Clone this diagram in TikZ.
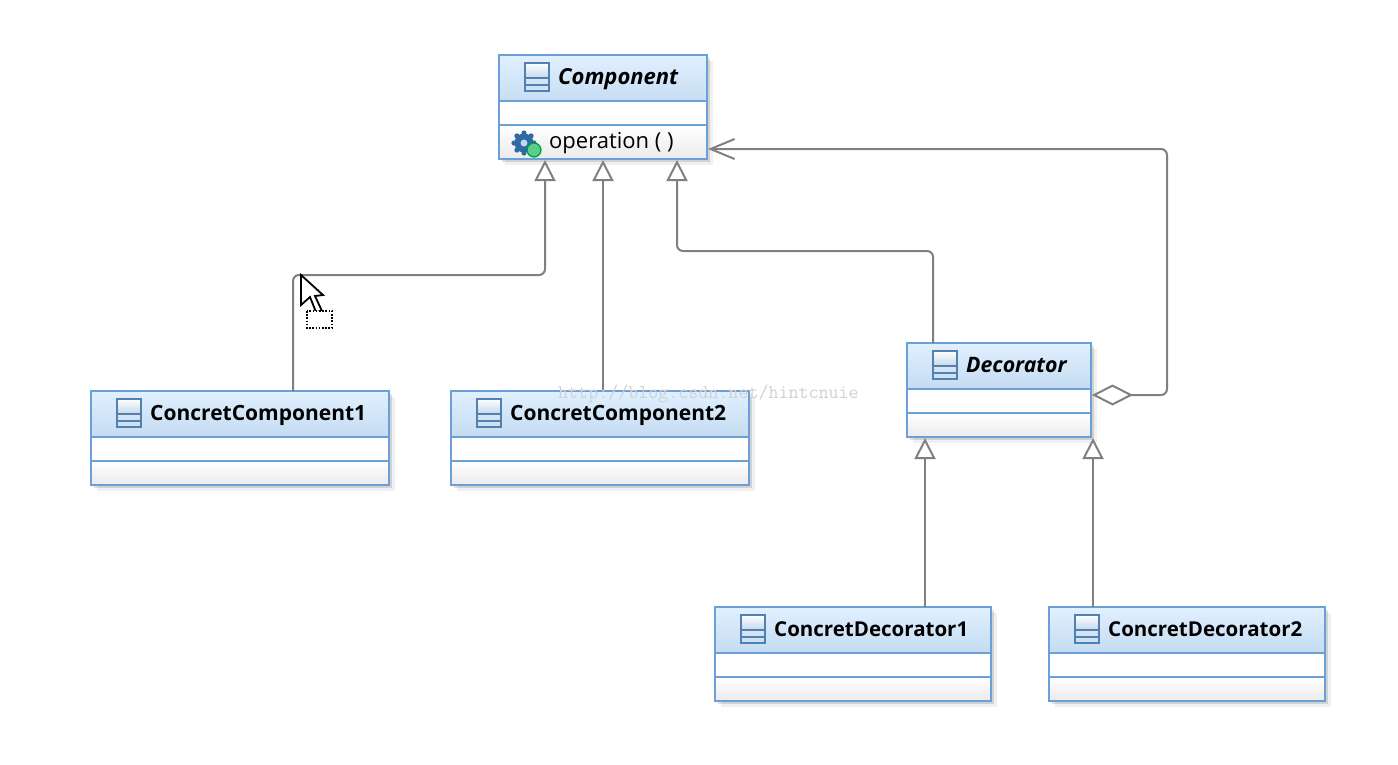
\documentclass[tikz,border=0pt]{standalone}
\usepackage{fontspec}
\setmainfont{Open Sans}
\usetikzlibrary{arrows.meta}
\usetikzlibrary{shadows}
\definecolor{classblue}{HTML}{6A9FD8}
\definecolor{headtop}{HTML}{E0F0FF}
\definecolor{headbot}{HTML}{A8C6E2}
\definecolor{linegray}{HTML}{808080}
\definecolor{gearblue}{HTML}{2F6AA5}
\tikzset{
	classbox/.style={
		drop shadow={shadow xshift=6pt,shadow yshift=-6pt,opacity=.06,fill=black},
		drop shadow={shadow xshift=3pt,shadow yshift=-3pt,opacity=.12,fill=black},
		anchor=north west,rectangle,draw=classblue,line width=2.2pt,fill=white,
		inner sep=0pt,outer sep=0pt,minimum height=#1,
		path picture={
			\shade[top color=headtop,bottom color=headbot]
				(path picture bounding box.north west) rectangle ([yshift=-46pt]path picture bounding box.north east);
			\shade[top color=white,bottom color=black!8]
				([yshift=-70pt]path picture bounding box.north west) rectangle (path picture bounding box.south east);
			\draw[classblue,line width=2.2pt] ([yshift=-46pt]path picture bounding box.north west) -- ([yshift=-46pt]path picture bounding box.north east);
			\draw[classblue,line width=2.2pt] ([yshift=-70pt]path picture bounding box.north west) -- ([yshift=-70pt]path picture bounding box.north east);
		}},
	classbox/.default=94pt,
	classname/.style={anchor=base west,inner sep=0pt,font=\fontsize{#1}{24}\selectfont\bfseries},
	classname/.default=21,
	connector/.style={linegray,line width=2pt,rounded corners=6pt},
	inherits/.style={connector,-{Triangle[open,fill=white,length=21pt,width=21pt]}},
	holds/.style={connector,{Diamond[open,fill=white,length=41pt,width=21pt]}-{Straight Barb[length=24pt,width=20pt]}},
	classicon/.pic={
		\fill[top color=white,bottom color=headbot!70] (0,0) rectangle (24,15);
		\draw[classblue!80!black,line width=1.6pt] (0,0) rectangle (24,28);
		\draw[classblue!80!black,line width=1.6pt] (0,15) -- (24,15);
		\draw[classblue!80!black,line width=1.6pt] (0,22) -- (24,22);
	}
}
\begin{document}
\begin{tikzpicture}[x=1pt,y=-1pt]
		\useasboundingbox[fill=white] (0,0) rectangle (1398,764);
		% classes
		\node[classbox=104pt,minimum width=208pt] (component) at (499,55) {};
		\foreach \name/\x/\y/\w in {decorator/907/343/184,
			concretecomponent1/91/391/298,concretecomponent2/451/391/298,
			concretedecorator1/715/607/276,concretedecorator2/1049/607/276} {
			\node[classbox,minimum width=\w pt] (\name) at (\x,\y) {};
		}
		% icons
		\pic at (525,63) {classicon};
		\pic at (933,351) {classicon};
		\pic at (117,399) {classicon};
		\pic at (477,399) {classicon};
		\pic at (741,615) {classicon};
		\pic at (1075,615) {classicon};
		% names
		\node[classname=22] (componentname) at ([xshift=59pt,yshift=-29pt]component.north west) {\itshape Component};
		\node[classname=21.3] (decoratorname) at ([xshift=59pt,yshift=-29pt]decorator.north west) {\itshape Decorator};
		\node[classname] (cc1name) at ([xshift=59pt,yshift=-29pt]concretecomponent1.north west) {ConcretComponent1};
		\node[classname] (cc2name) at ([xshift=59pt,yshift=-29pt]concretecomponent2.north west) {ConcretComponent2};
		\node[classname=20.5] (cd1name) at ([xshift=59pt,yshift=-29pt]concretedecorator1.north west) {ConcretDecorator1};
		\node[classname=20.5] (cd2name) at ([xshift=59pt,yshift=-29pt]concretedecorator2.north west) {ConcretDecorator2};
		% operation row
		\foreach \a in {0,45,...,315} {
			\fill[gearblue] (524,143) ++(\a:10) circle (2.6);
		}
		\fill[gearblue] (524,143) circle (9.5);
		\fill[white!60!classblue] (524,143) circle (3.5);
		\draw[draw=black!30!green!50!teal,fill=green!40!teal!65!white,line width=1.2pt] (534,150) circle (7);
		\node[classname,font=\fontsize{22}{24}\selectfont] (operation) at (549,148) {operation ( )};
		% connectors
		\coordinate (bend1) at (293,275);
		\coordinate (bend2) at (545,275);
		\draw[inherits] ([xshift=53pt]concretecomponent1.north) -- (bend1) -- (bend2) -- ([xshift=-58pt,yshift=-1pt]component.south);
		\draw[inherits] ([xshift=3pt]concretecomponent2.north) -- ([yshift=-1pt]component.south);
		\coordinate (bend3) at (933,251);
		\coordinate (bend4) at (677,251);
		\draw[inherits] ([xshift=-66pt]decorator.north) -- (bend3) -- (bend4) -- ([xshift=74pt,yshift=-1pt]component.south);
		\draw[inherits] ([xshift=72pt]concretedecorator1.north) -- ([xshift=-74pt,yshift=-1pt]decorator.south);
		\draw[inherits] ([xshift=-94pt]concretedecorator2.north) -- ([xshift=94pt,yshift=-1pt]decorator.south);
		\coordinate (bend5) at (1167,395);
		\coordinate (bend6) at (1167,149);
		\draw[holds] ([yshift=-5pt,xshift=1pt]decorator.east) -- (bend5) -- (bend6) -- ([yshift=-42pt,xshift=1pt]component.east);
		% cursor
		\draw[black,fill=white,line width=1.8pt,line join=miter] (301,275) -- (323,295) -- (315,296) -- (322,311) -- (316,312) -- (310,297) -- (301,305) -- cycle;
		\draw[black,dash pattern=on 1.6pt off 1.6pt,fill=white,line width=2pt] (307,311) rectangle (332,328);
		% watermark
		\node[anchor=base west,inner sep=0pt,text=black!18,font=\ttfamily\fontsize{19.45}{22}\selectfont] (watermark) at (558,398) {http://blog.csdn.net/hintcnuie};
		\end{tikzpicture}
\end{document}
